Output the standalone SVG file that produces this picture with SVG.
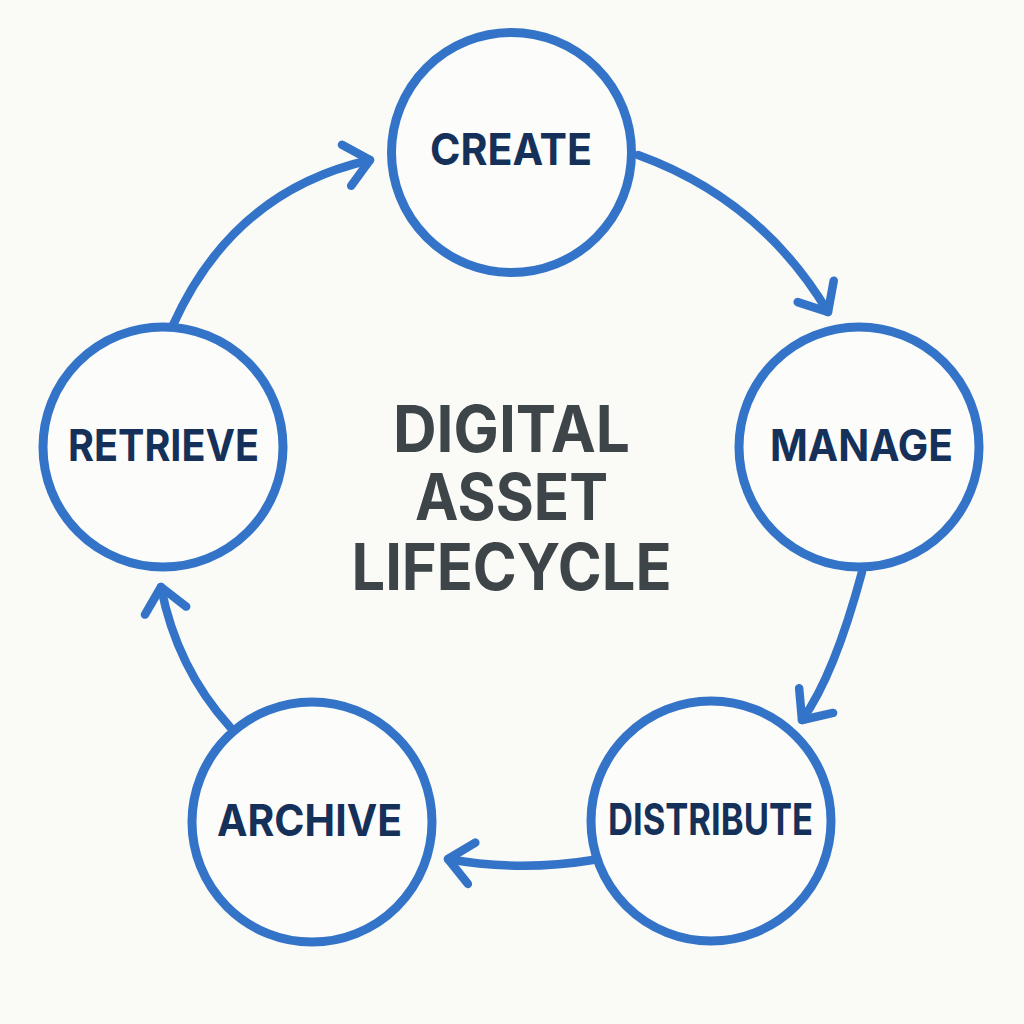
<svg xmlns="http://www.w3.org/2000/svg" width="1024" height="1024" viewBox="0 0 1024 1024">
  <defs>
    <style>
      .node { fill: #fcfcfa; stroke: #3474c8; stroke-width: 9; }
      .label { font-family: Inter, "Liberation Sans", sans-serif; font-weight: 700; font-size: 44px; fill: #15315a; text-anchor: middle; }
      .title { font-family: Inter, "Liberation Sans", sans-serif; font-weight: 700; font-size: 64px; fill: #3e4548; text-anchor: middle; }
      .edge { fill: none; stroke: #3474c8; stroke-width: 8.5; stroke-linecap: round; stroke-linejoin: round; }
    </style>
    <marker id="chev" markerUnits="userSpaceOnUse" viewBox="-40 -40 60 80" refX="0" refY="0" markerWidth="60" markerHeight="80" orient="auto" overflow="visible">
      <path d="M -24 -21 L 0 0 L -24 21" fill="none" stroke="#3474c8" stroke-width="8.5" stroke-linecap="round" stroke-linejoin="round"/>
    </marker>
  </defs>
  <rect width="1024" height="1024" fill="#fafaf7"/>

  <g id="connectors">
    <path class="edge" d="M 638 155 Q 761 199.5 828 312" marker-end="url(#chev)"/>
    <path class="edge" d="M 862 572 Q 834 676 802 720" marker-end="url(#chev)"/>
    <path class="edge" d="M 593 860 Q 520 872 448 859" marker-end="url(#chev)"/>
    <path class="edge" d="M 230 727 Q 176.7 668 161 587" marker-end="url(#chev)"/>
    <path class="edge" d="M 173 325 Q 233.5 190.7 370 160" marker-end="url(#chev)"/>
  </g>

  <g id="node-create">
    <circle class="node" cx="511.5" cy="152.5" r="120"/>
    <text class="label" x="511" y="165" textLength="162" lengthAdjust="spacingAndGlyphs">CREATE</text>
  </g>
  <g id="node-manage">
    <circle class="node" cx="859" cy="447" r="120"/>
    <text class="label" x="861.5" y="461" textLength="183" lengthAdjust="spacingAndGlyphs">MANAGE</text>
  </g>
  <g id="node-distribute">
    <circle class="node" cx="711" cy="821" r="120"/>
    <text class="label" x="710.5" y="835" textLength="205" lengthAdjust="spacingAndGlyphs">DISTRIBUTE</text>
  </g>
  <g id="node-archive">
    <circle class="node" cx="312" cy="822" r="120"/>
    <text class="label" x="309.5" y="836" textLength="185" lengthAdjust="spacingAndGlyphs">ARCHIVE</text>
  </g>
  <g id="node-retrieve">
    <circle class="node" cx="163" cy="447" r="120"/>
    <text class="label" x="163.5" y="461" textLength="191" lengthAdjust="spacingAndGlyphs">RETRIEVE</text>
  </g>

  <g id="title">
    <text class="title" x="511.5" y="452" textLength="237" lengthAdjust="spacingAndGlyphs">DIGITAL</text>
    <text class="title" x="511.5" y="520" textLength="193" lengthAdjust="spacingAndGlyphs">ASSET</text>
    <text class="title" x="511.5" y="590" textLength="320" lengthAdjust="spacingAndGlyphs">LIFECYCLE</text>
  </g>
</svg>
